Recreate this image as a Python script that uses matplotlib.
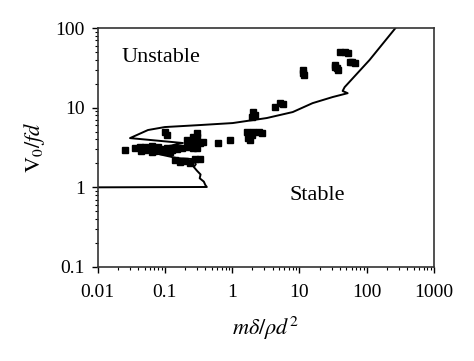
import matplotlib
matplotlib.use("Agg")
import matplotlib.pyplot as plt
from matplotlib.ticker import LogLocator, NullFormatter, FixedLocator, FixedFormatter

plt.rcParams['font.family'] = ['Liberation Serif', 'DejaVu Serif']
plt.rcParams['mathtext.fontset'] = 'stix'

# Stability boundary (one continuous curve)
boundary_x = [268, 110, 47, 43.9, 52.1, 31.2, 15.7, 7.96, 3.27, 1.02, 0.332, 0.100,
              0.0562, 0.0304, 0.186, 0.0507, 0.151, 0.261, 0.289, 0.27, 0.30,
              0.34, 0.33, 0.38, 0.40, 0.421, 0.01]
boundary_y = [100, 39.6, 18.1, 16.2, 15.2, 13.6, 11.4, 8.81, 7.41, 6.41, 6.05, 5.71,
              5.24, 4.15, 3.6, 2.85, 2.33, 2.26, 1.95, 1.80, 1.62,
              1.45, 1.30, 1.18, 1.07, 1.01, 1.0]

# Experimental data points
data_x = [0.0256, 0.036, 0.0428, 0.045, 0.0507, 0.05, 0.0562, 0.06, 0.0644, 0.065,
          0.07, 0.0764, 0.08, 0.085, 0.0906, 0.095, 0.107, 0.115, 0.12, 0.127,
          0.14, 0.151, 0.179,
          0.100, 0.107,
          0.213, 0.261, 0.30, 0.30, 0.30, 0.30, 0.33, 0.367, 0.252, 0.213, 0.261,
          0.141, 0.167, 0.199, 0.236, 0.28, 0.332,
          0.614, 0.925,
          1.65, 1.75, 1.83, 2.0, 2.03, 2.76, 2.5,
          2.03, 2.17, 1.96,
          4.30, 5.10, 5.65,
          11.2, 11.6, 11.2,
          33.4, 35.8, 37.0, 33.4,
          39.6, 52.1, 48.0,
          55.7, 66.1, 60.0]
data_y = [2.94, 3.11, 3.20, 2.85, 2.94, 3.25, 3.11, 3.0, 2.77, 3.3,
          2.9, 3.11, 3.2, 3.05, 2.94, 2.85, 3.11, 3.0, 2.8, 2.94,
          3.1, 3.03, 3.11,
          4.94, 4.53,
          3.92, 4.28, 4.8, 4.3, 3.6, 3.1, 3.6, 3.70, 3.59, 3.20, 3.11,
          2.20, 2.08, 2.14, 2.03, 2.26, 2.26,
          3.59, 3.92,
          4.9, 4.2, 3.9, 4.5, 5.0, 4.8, 5.0,
          8.81, 8.07, 7.62,
          10.2, 11.4, 11.1,
          29.6, 25.6, 27.2,
          34.2, 31.4, 29.6, 32.3,
          49.9, 48.4, 49.9,
          37.3, 36.3, 37.0]

x_ticks = [0.01, 0.1, 1, 10, 100, 1000]
x_tick_labels = ['0.01', '0.1', '1', '10', '100', '1000']
y_ticks = [0.1, 1, 10, 100]
y_tick_labels = ['0.1', '1', '10', '100']

fig = plt.figure(figsize=(4.74, 3.61), dpi=100)
ax = fig.add_axes([0.2057, 0.2604, 0.7099, 0.662])

ax.plot(boundary_x, boundary_y, color='black', lw=1.4, zorder=2)
ax.plot(data_x, data_y, linestyle='none', marker='s', color='black', ms=4.7, zorder=3)

ax.set_xscale('log')
ax.set_yscale('log')
ax.set_xlim(0.01, 1000)
ax.set_ylim(0.1, 100)

ax.xaxis.set_major_locator(FixedLocator(x_ticks))
ax.xaxis.set_major_formatter(FixedFormatter(x_tick_labels))
ax.yaxis.set_major_locator(FixedLocator(y_ticks))
ax.yaxis.set_major_formatter(FixedFormatter(y_tick_labels))
ax.xaxis.set_minor_locator(LogLocator(base=10, subs=range(2, 10), numticks=20))
ax.yaxis.set_minor_locator(LogLocator(base=10, subs=range(2, 10), numticks=20))
ax.xaxis.set_minor_formatter(NullFormatter())
ax.yaxis.set_minor_formatter(NullFormatter())

ax.tick_params(which='major', direction='out', length=4, width=1, labelsize=14, colors='black')
ax.tick_params(which='minor', direction='out', length=2.2, width=0.8)
ax.tick_params(axis='x', which='major', pad=8)
ax.tick_params(axis='y', which='major', pad=5)
for s in ax.spines.values():
    s.set_linewidth(1.2)
    s.set_color('#333333')

ax.set_xlabel(r'$m\delta/\rho d^2$', fontsize=16, labelpad=10)
ax.set_ylabel(r'$\mathrm{V}_0/fd$', fontsize=16, labelpad=6)

ax.text(0.0231, 43, 'Unstable', fontsize=16, ha='left', va='center')
ax.text(18.7, 0.8, 'Stable', fontsize=16, ha='center', va='center')

fig.savefig('out.png', dpi=100)
